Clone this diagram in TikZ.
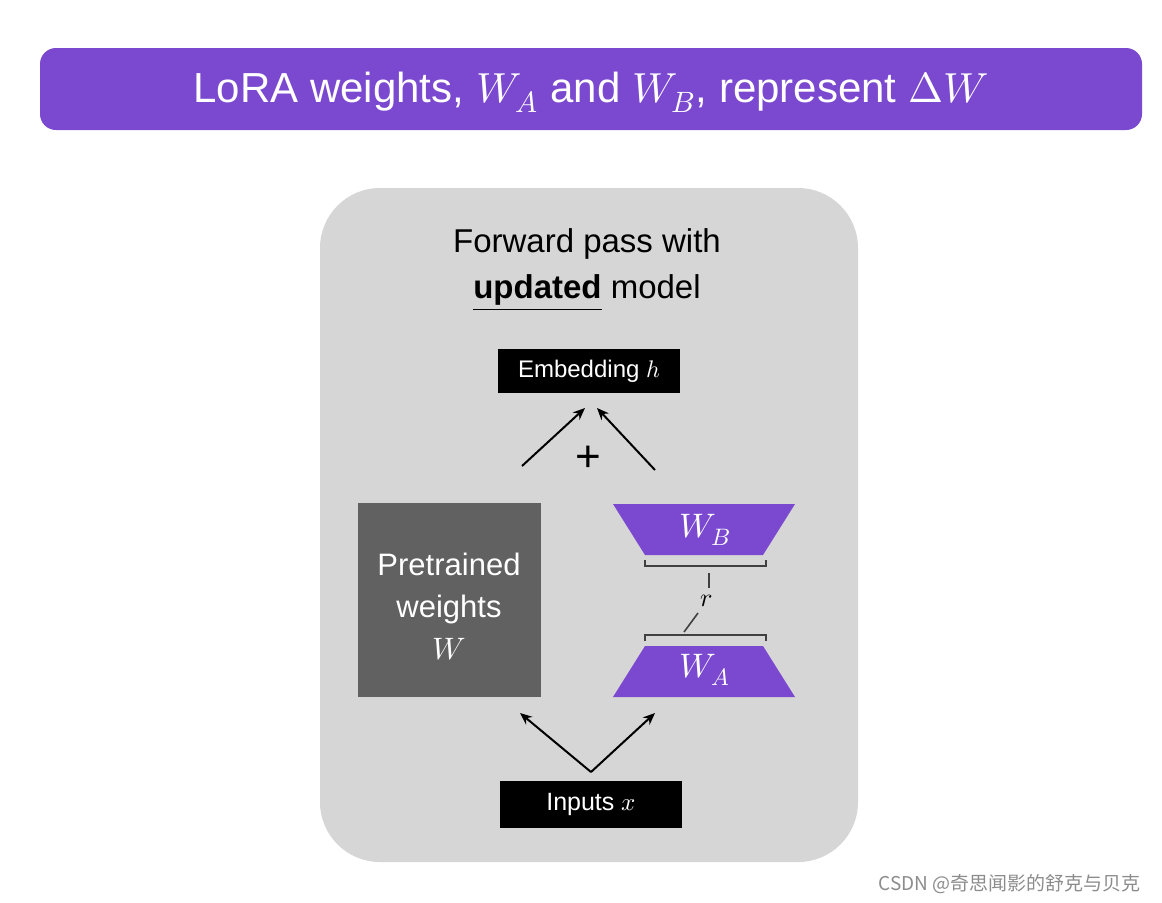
\documentclass[tikz,border=0pt]{standalone}
\usetikzlibrary{arrows.meta}
\usepackage{fontspec}
\setmainfont{Liberation Sans}
\newfontfamily\cjk{Noto Sans CJK SC}
\usepackage{unicode-math}
\setmathfont{Latin Modern Math}
\begin{document}
\begin{tikzpicture}[x=0.5pt,y=-0.5pt,
  arr/.style={-{Stealth[length=6pt,width=5pt]},line width=1pt},
  brk/.style={line width=0.8pt,draw=black!75}]
\definecolor{lora}{HTML}{7B48D0}
\useasboundingbox (0,0) rectangle (1162,902);
\fill[white] (0,0) rectangle (1162,902);
\fill[lora,rounded corners=8pt] (40,48) rectangle (1142,130);
\node[text=white,font=\fontsize{21}{24}\selectfont] (title) at (591,92) {LoRA weights, $W_A$ and $W_B$, represent $\Delta W$};
\fill[black!16,rounded corners=30pt] (320,188) rectangle (858,862);
\node[align=center,font=\fontsize{16.5}{23}\selectfont] (fp) at (587,270) {Forward pass with\\\underline{\textbf{updated}} model};
\fill[black] (498,349) rectangle (680,393);
\node[text=white,font=\fontsize{12}{14}\selectfont] (emb) at (589,371) {Embedding $h$};
\coordinate (e1) at (585,408); \coordinate (e2) at (597,408);
\fill[black!62] (358,503) rectangle (541,697);
\node[text=white,align=center,font=\fontsize{15.5}{21}\selectfont] (pre) at (449,607) {Pretrained\\weights\\$W$};
\fill[lora] (613,504) -- (795,504) -- (763,555) -- (645,555) -- cycle;
\node[text=white,font=\fontsize{17}{20}\selectfont] (wb) at (705,530) {$W_B$};
\fill[lora] (645,646) -- (763,646) -- (795,697) -- (613,697) -- cycle;
\node[text=white,font=\fontsize{17}{20}\selectfont] (wa) at (705,670) {$W_A$};
\draw[brk] (645,560) -- (645,566) -- (766,566) -- (766,560);
\draw[brk] (709,573) -- (709,588);
\node[font=\fontsize{13}{15}\selectfont] (r) at (707,601) {$\boldsymbol{r}$};
\draw[brk] (684,632) -- (698,613);
\draw[brk] (645,641) -- (645,635) -- (766,635) -- (766,641);
\coordinate (s1) at (522,466); \coordinate (s2) at (655,470);
\draw[arr] (s1) -- (e1);
\draw[arr] (s2) -- (e2);
\node[font=\fontsize{22}{24}\selectfont] (plus) at (588,459) {+};
\fill[black] (500,781) rectangle (682,828);
\node[text=white,font=\fontsize{12.5}{14}\selectfont] (inp) at (591,804) {Inputs $x$};
\coordinate (i0) at (591,772);
\coordinate (t1) at (520,713); \coordinate (t2) at (655,713);
\draw[arr] (i0) -- (t1);
\draw[arr] (i0) -- (t2);
\node[text=black!45,anchor=east,font=\fontsize{9.5}{11}\cjk] (wm) at (1148,884) {CSDN @奇思闻影的舒克与贝克};
\end{tikzpicture}
\end{document}
